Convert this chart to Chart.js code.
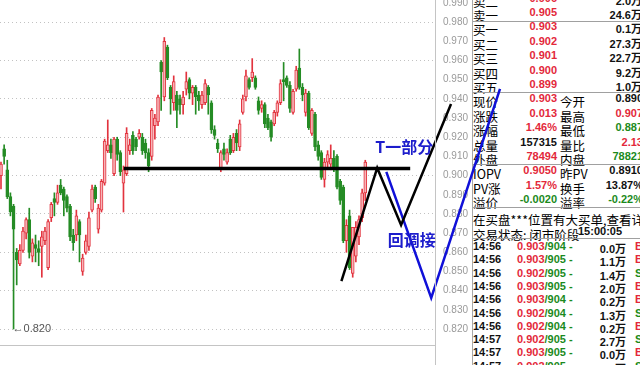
<!DOCTYPE html>
<html>
<head>
<meta charset="utf-8">
<script src="https://cdn.jsdelivr.net/npm/chart.js@4.4.0/dist/chart.umd.min.js"></script>
<style>
  html, body { margin: 0; padding: 0; background: #fff; }
  #wrap { position: relative; width: 640px; height: 365px; overflow: hidden; background: #fff; }
  #panel { position: absolute; left: 472px; top: 0; width: 200px; height: 365px; border-left: 1px solid #a8a8a8; }
  #chart { position: absolute; left: 0; top: 0; z-index: 2; }
  .cell { position: absolute; height: 14px; line-height: 14px; white-space: nowrap; }
  .cn { font: 12.5px "Noto Sans CJK SC", sans-serif; color: #000; }
  .num { font: bold 11px "Liberation Sans", "Noto Sans CJK SC", sans-serif; }
  .r { color: #e3283a; }
  .g { color: #1b8a1b; }
  .k { color: #111; }
  .sep { position: absolute; left: 0; width: 200px; height: 1px; background: #a0a0a0; }
</style>
</head>
<body>
<div id="wrap">
  <div id="panel"></div>
  <canvas id="chart" width="640" height="365"></canvas>
</div>
<script>
// candles, oldest first
const candleOpen = [
  0.900, 0.914, 0.903, 0.889, 0.884, 0.860, 0.854, 0.861, 0.870, 0.877,
  0.858, 0.864, 0.862, 0.863, 0.866, 0.852, 0.878, 0.888, 0.886, 0.895,
  0.893, 0.889, 0.884, 0.869, 0.869, 0.876, 0.850, 0.860, 0.863, 0.882,
  0.894, 0.872, 0.882, 0.896, 0.913, 0.916, 0.901, 0.919, 0.912, 0.896,
  0.901, 0.913, 0.921, 0.919, 0.920, 0.920, 0.917, 0.912, 0.910, 0.926,
  0.928, 0.959, 0.941, 0.967, 0.946, 0.938, 0.942, 0.940, 0.937, 0.945,
  0.950, 0.943, 0.946, 0.942, 0.937, 0.938, 0.946, 0.938, 0.924, 0.917,
  0.904, 0.914, 0.907, 0.919, 0.913, 0.922, 0.915, 0.933, 0.941, 0.950,
  0.951, 0.951, 0.939, 0.935, 0.937, 0.930, 0.928, 0.927, 0.933, 0.938,
  0.950, 0.951, 0.947, 0.933, 0.945, 0.956, 0.946, 0.933, 0.943, 0.922,
  0.932, 0.916, 0.912, 0.898, 0.907, 0.906, 0.909, 0.910, 0.897, 0.894,
  0.866, 0.879, 0.849, 0.858, 0.868, 0.878, 0.891
];
const candleHigh = [
  0.907, 0.916, 0.908, 0.891, 0.885, 0.862, 0.864, 0.873, 0.878, 0.883,
  0.867, 0.869, 0.866, 0.871, 0.873, 0.877, 0.886, 0.891, 0.895, 0.898,
  0.894, 0.890, 0.885, 0.872, 0.882, 0.877, 0.859, 0.869, 0.881, 0.895,
  0.895, 0.885, 0.898, 0.919, 0.929, 0.919, 0.920, 0.920, 0.913, 0.905,
  0.925, 0.919, 0.923, 0.920, 0.924, 0.922, 0.919, 0.914, 0.935, 0.932,
  0.942, 0.960, 0.972, 0.968, 0.947, 0.952, 0.944, 0.942, 0.944, 0.954,
  0.951, 0.947, 0.947, 0.944, 0.944, 0.950, 0.947, 0.939, 0.926, 0.919,
  0.913, 0.917, 0.914, 0.921, 0.922, 0.924, 0.929, 0.942, 0.955, 0.951,
  0.961, 0.952, 0.941, 0.939, 0.938, 0.932, 0.929, 0.934, 0.939, 0.950,
  0.959, 0.952, 0.949, 0.945, 0.957, 0.966, 0.948, 0.945, 0.944, 0.935,
  0.933, 0.918, 0.913, 0.909, 0.913, 0.916, 0.913, 0.911, 0.898, 0.895,
  0.877, 0.882, 0.861, 0.876, 0.879, 0.893, 0.908
];
const candleLow = [
  0.893, 0.906, 0.888, 0.879, 0.820, 0.843, 0.853, 0.860, 0.867, 0.857,
  0.855, 0.855, 0.853, 0.847, 0.864, 0.851, 0.876, 0.879, 0.885, 0.890,
  0.879, 0.881, 0.866, 0.861, 0.866, 0.855, 0.848, 0.859, 0.861, 0.881,
  0.886, 0.870, 0.881, 0.895, 0.912, 0.909, 0.900, 0.908, 0.900, 0.881,
  0.900, 0.911, 0.911, 0.913, 0.919, 0.911, 0.909, 0.902, 0.908, 0.919,
  0.926, 0.934, 0.939, 0.950, 0.932, 0.934, 0.925, 0.932, 0.932, 0.942,
  0.940, 0.937, 0.932, 0.934, 0.935, 0.937, 0.932, 0.922, 0.919, 0.912,
  0.902, 0.908, 0.906, 0.911, 0.912, 0.913, 0.913, 0.932, 0.939, 0.945,
  0.949, 0.945, 0.932, 0.933, 0.925, 0.924, 0.918, 0.926, 0.931, 0.937,
  0.939, 0.946, 0.933, 0.932, 0.944, 0.945, 0.939, 0.931, 0.924, 0.921,
  0.913, 0.908, 0.898, 0.894, 0.904, 0.903, 0.902, 0.893, 0.885, 0.865,
  0.860, 0.851, 0.847, 0.855, 0.864, 0.876, 0.887
];
const candleClose = [
  0.906, 0.910, 0.889, 0.881, 0.872, 0.856, 0.861, 0.871, 0.877, 0.860,
  0.865, 0.862, 0.860, 0.868, 0.871, 0.876, 0.885, 0.886, 0.891, 0.891,
  0.887, 0.883, 0.868, 0.865, 0.879, 0.869, 0.857, 0.866, 0.878, 0.893,
  0.888, 0.883, 0.897, 0.918, 0.916, 0.912, 0.919, 0.911, 0.902, 0.903,
  0.922, 0.916, 0.913, 0.915, 0.922, 0.913, 0.912, 0.905, 0.934, 0.930,
  0.941, 0.954, 0.970, 0.951, 0.940, 0.949, 0.934, 0.937, 0.941, 0.949,
  0.943, 0.946, 0.941, 0.939, 0.942, 0.948, 0.942, 0.924, 0.921, 0.914,
  0.912, 0.911, 0.912, 0.912, 0.920, 0.917, 0.927, 0.940, 0.952, 0.946,
  0.954, 0.946, 0.934, 0.937, 0.927, 0.925, 0.920, 0.933, 0.938, 0.948,
  0.949, 0.947, 0.935, 0.944, 0.955, 0.946, 0.942, 0.943, 0.925, 0.934,
  0.915, 0.910, 0.899, 0.907, 0.911, 0.909, 0.904, 0.894, 0.887, 0.866,
  0.874, 0.852, 0.873, 0.873, 0.877, 0.891, 0.907
];
const yTicks = [0.99, 0.98, 0.97, 0.96, 0.95, 0.94, 0.93, 0.92, 0.91, 0.90,
                0.89, 0.88, 0.87, 0.86, 0.85, 0.84, 0.83, 0.82];

// hand-drawn marks (x in candle index, y in price)
const levelX = [39.1, 130.3];
const levelY = [0.9037, 0.9037];
const zigX = [108.4, 119.8, 127.4, 143.3];
const zigY = [0.845, 0.904, 0.8742, 0.9373];
const blueX = [122.7, 137.0, 158.9];
const blueY = [0.9019, 0.8362, 0.9452];

// quote panel
const bookRows = [
  ['卖二', '0.906', '2.0万'],
  ['卖一', '0.905', '24.6万'],
  ['买一', '0.903', '0.1万'],
  ['买二', '0.902', '27.3万'],
  ['买三', '0.901', '22.7万'],
  ['买四', '0.900', '9.2万'],
  ['买五', '0.899', '1.0万']
];
const quoteRows = [
  ['现价', '0.903', 'r', '今开', '0.890', 'k'],
  ['涨跌', '0.013', 'r', '最高', '0.907', 'r'],
  ['涨幅', '1.46%', 'r', '最低', '0.887', 'g'],
  ['总量', '157315', 'k', '量比', '2.13', 'r'],
  ['外盘', '78494', 'r', '内盘', '78821', 'g'],
  ['IOPV', '0.9050', 'r', '昨PV', '0.8910', 'k'],
  ['PV涨', '1.57%', 'r', '换手', '13.87%', 'k'],
  ['溢价', '-0.0020', 'g', '溢率', '-0.22%', 'g']
];
const tradeTime = ['14:56', '14:56', '14:56', '14:56', '14:56', '14:56', '14:56', '14:57', '14:57', '14:57'];
const tradePrice = ['0.903', '0.903', '0.902', '0.903', '0.903', '0.902', '0.902', '0.902', '0.903', '0.902'];
const tradeOther = ['/904', '/905', '/905', '/905', '/904', '/904', '/904', '/905', '/905', '/905'];
const tradeVol = ['0.0万', '1.1万', '1.4万', '2.0万', '0.2万', '1.3万', '0.2万', '2.7万', '0.0万', '0.0万'];
const tradeSide = ['B', 'B', 'S', 'B', 'B', 'S', 'B', 'S', 'B', 'S'];

const UP = '#e2333e';
const UP_FILL = '#f7b4b8';
const DOWN = '#258c25';

// ---- panel ----
const panel = document.getElementById('panel');
function cell(html, top, left, width, align, cls) {
  const d = document.createElement('div');
  d.className = 'cell ' + cls;
  d.innerHTML = html;
  d.style.top = top + 'px';
  d.style.left = left + 'px';
  if (width) { d.style.width = width + 'px'; d.style.textAlign = align; }
  panel.appendChild(d);
}
function sep(top) {
  const d = document.createElement('div');
  d.className = 'sep';
  d.style.top = top + 'px';
  panel.appendChild(d);
}
bookRows.forEach((r, k) => {
  const top = -8.4 + 14.4 * k;
  cell(r[0], top, 0, 0, '', 'cn');
  cell(r[1], top, 24, 60, 'right', 'num r');
  cell(r[2], top, 99, 70, 'right', 'num k');
});
quoteRows.forEach((r, k) => {
  const top = -8.4 + 14.4 * (k + 7);
  cell(r[0], top, 0, 0, '', 'cn');
  cell(r[1], top, 24, 60, 'right', 'num ' + r[2]);
  cell(r[3], top, 87, 0, '', 'cn');
  cell(r[4], top, 100, 70, 'right', 'num ' + r[5]);
});
cell('在买盘***位置有大买单,查看详情', 210, 0, 0, '', 'cn');
cell('交易状态: 闭市阶段', 225, 0, 0, '', 'cn');
cell('15:00:05', 225, 105, 0, '', 'num k');
tradeTime.forEach((t, j) => {
  const top = 240 + 13.3 * j;
  cell(t, top, 0, 0, '', 'num k');
  cell('<span class="r">' + tradePrice[j] + '</span><span class="g">' + tradeOther[j] + ' -</span>', top, 44, 0, '', 'num');
  cell(tradeVol[j], top, 93, 60, 'right', 'num k');
  cell(tradeSide[j], top, 162, 0, '', 'num ' + (tradeSide[j] === 'B' ? 'r' : 'g'));
});
[21, 92, 164, 207, 238].forEach(sep);

// ---- chart ----
const idx = candleOpen.map((_, i) => i);
const isUp = idx.map(i => candleClose[i] >= candleOpen[i]);
const toPoints = (xs, ys) => xs.map((x, i) => ({x: x, y: ys[i]}));

const notes = [
  {text: 'T一部分', x: 128.4, y: 0.915},
  {text: '回调接', x: 130.8, y: 0.8662}
];

const extras = {
  id: 'extras',
  afterDatasetsDraw(chart) {
    const {ctx, scales: {x, y}} = chart;
    ctx.save();
    // full-height separator right of the plot
    ctx.strokeStyle = '#c4c4c4';
    ctx.lineWidth = 1;
    ctx.beginPath();
    ctx.moveTo(Math.round(y.left) + 0.5, 0);
    ctx.lineTo(Math.round(y.left) + 0.5, chart.height);
    ctx.stroke();
    // lowest price marker
    const lowIdx = candleLow.indexOf(Math.min(...candleLow));
    ctx.fillStyle = '#555';
    ctx.font = '11px "Liberation Sans", sans-serif';
    ctx.textBaseline = 'middle';
    ctx.textAlign = 'left';
    ctx.fillText('←' + candleLow[lowIdx].toFixed(3), x.getPixelForValue(lowIdx) - 1, y.getPixelForValue(candleLow[lowIdx]));
    // hand-written notes
    ctx.fillStyle = '#1d1dcc';
    ctx.font = 'bold 16px "Noto Sans CJK SC", sans-serif';
    ctx.textAlign = 'center';
    notes.forEach(n => ctx.fillText(n.text, x.getPixelForValue(n.x), y.getPixelForValue(n.y)));
    ctx.restore();
  }
};

new Chart(document.getElementById('chart'), {
  type: 'bar',
  data: {
    datasets: [
      {
        type: 'line', data: toPoints(levelX, levelY), borderColor: '#000', borderWidth: 3.5,
        pointRadius: 0, clip: false, order: 0
      },
      {
        type: 'line', data: toPoints(zigX, zigY), borderColor: '#000', borderWidth: 2.5,
        pointRadius: 0, clip: false, borderJoinStyle: 'miter', order: 0
      },
      {
        type: 'line', data: toPoints(blueX, blueY), borderColor: '#1010d8', borderWidth: 2.5,
        pointRadius: 0, clip: false, borderJoinStyle: 'miter', order: 0
      },
      {
        data: idx.map(i => ({x: i, y: [candleOpen[i], candleClose[i]]})),
        backgroundColor: idx.map(i => isUp[i] ? UP_FILL : DOWN),
        borderColor: idx.map(i => isUp[i] ? UP : DOWN),
        borderWidth: 1, borderSkipped: false, barThickness: 3, minBarLength: 1,
        grouped: false, order: 1
      },
      {
        data: idx.map(i => ({x: i, y: [candleLow[i], candleHigh[i]]})),
        backgroundColor: idx.map(i => isUp[i] ? UP : DOWN),
        barThickness: 1, grouped: false, order: 2
      }
    ]
  },
  options: {
    responsive: false,
    animation: false,
    devicePixelRatio: 1,
    layout: {padding: 0},
    plugins: {legend: {display: false}, tooltip: {enabled: false}},
    scales: {
      x: {
        type: 'linear',
        offset: false,
        min: -0.318,
        max: 138.2,
        ticks: {display: false},
        grid: {display: false},
        border: {display: true, color: '#c4c4c4'},
        afterFit: s => { s.height = 20; s.paddingLeft = 0; s.paddingRight = 0; }
      },
      y: {
        type: 'linear',
        position: 'right',
        min: 0.81166,
        max: 0.99156,
        afterBuildTicks: s => { s.ticks = yTicks.map(v => ({value: v})); },
        afterFit: s => { s.width = 205; s.paddingTop = 0; s.paddingBottom = 0; },
        ticks: {
          autoSkip: false,
          padding: 8,
          color: '#9a9a9a',
          font: {size: 10, family: '"Liberation Sans", sans-serif'},
          callback: v => Number(v).toFixed(3)
        },
        grid: {
          drawTicks: false,
          color: c => (Math.round(c.tick.value * 100) % 2 === 0 ? '#c2c2c2' : 'rgba(0,0,0,0)')
        },
        border: {display: false, dash: [1, 3]}
      }
    }
  },
  plugins: [extras]
});
</script>
</body>
</html>
